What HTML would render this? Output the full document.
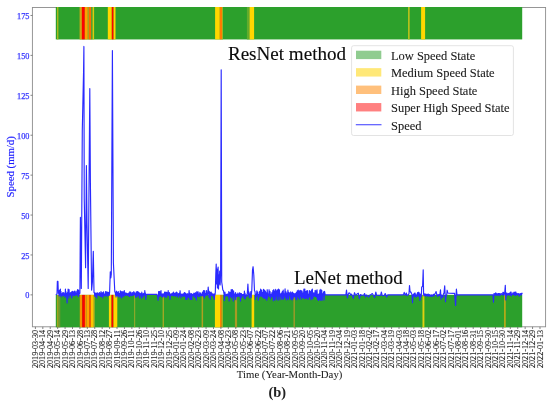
<!DOCTYPE html><html><head><meta charset="utf-8"><style>html,body{margin:0;padding:0;background:#fff;overflow:hidden}svg{display:block}text{font-family:"Liberation Serif","Times New Roman",serif}</style></head><body>
<svg width="550" height="403" viewBox="0 0 550 403">
<rect width="550" height="403" fill="#fff"/>
<rect x="32.4" y="7.5" width="513.2" height="319.3" fill="none" stroke="#8c8c8c" stroke-width="0.9"/>
<rect x="55.8" y="7" width="466.4" height="32.43" fill="#2ca02c"/>
<rect x="57" y="7" width="1.4" height="32.43" fill="#a8b81c"/>
<rect x="79.6" y="7" width="1.4" height="32.43" fill="#c8a818"/>
<rect x="81" y="7" width="0.9" height="32.43" fill="#e89a10"/>
<rect x="81.9" y="7" width="2.9" height="32.43" fill="#ff0000"/>
<rect x="84.8" y="7" width="3" height="32.43" fill="#ffa000"/>
<rect x="87.8" y="7" width="1.1" height="32.43" fill="#b0a820"/>
<rect x="88.9" y="7" width="2.2" height="32.43" fill="#ff6a00"/>
<rect x="91.1" y="7" width="1.5" height="32.43" fill="#5aa030"/>
<rect x="92.6" y="7" width="1.5" height="32.43" fill="#d8cc10"/>
<rect x="107.8" y="7" width="4" height="32.43" fill="#ffd700"/>
<rect x="111.8" y="7" width="1.8" height="32.43" fill="#ff0000"/>
<rect x="113.6" y="7" width="1.9" height="32.43" fill="#ffd700"/>
<rect x="215.1" y="7" width="4.7" height="32.43" fill="#ffd700"/>
<rect x="219.8" y="7" width="2.2" height="32.43" fill="#ff7a00"/>
<rect x="222" y="7" width="1" height="32.43" fill="#a0b020"/>
<rect x="246.9" y="7" width="2" height="32.43" fill="#64ac2e"/>
<rect x="248.9" y="7" width="0.9" height="32.43" fill="#98bc24"/>
<rect x="249.8" y="7" width="4.3" height="32.43" fill="#ffd700"/>
<rect x="408" y="7" width="1.7" height="32.43" fill="#b4c01c"/>
<rect x="421.1" y="7" width="4" height="32.43" fill="#ffd700"/>
<rect x="55.8" y="294.87" width="466.4" height="32.43" fill="#2ca02c"/>
<rect x="56.9" y="294.87" width="1.8" height="32.43" fill="#a0a41c"/>
<rect x="58.7" y="294.87" width="1.6" height="32.43" fill="#6a9a30"/>
<rect x="79.8" y="294.87" width="2.4" height="32.43" fill="#f29400"/>
<rect x="82.2" y="294.87" width="2.7" height="32.43" fill="#ff0000"/>
<rect x="84.9" y="294.87" width="1.7" height="32.43" fill="#ff8c00"/>
<rect x="86.6" y="294.87" width="2.5" height="32.43" fill="#ffa400"/>
<rect x="89.1" y="294.87" width="1.8" height="32.43" fill="#ff5000"/>
<rect x="90.9" y="294.87" width="2.9" height="32.43" fill="#ffc400"/>
<rect x="93.8" y="294.87" width="1.2" height="32.43" fill="#88a828"/>
<rect x="108.9" y="294.87" width="2.6" height="32.43" fill="#ffd700"/>
<rect x="111.5" y="294.87" width="2" height="32.43" fill="#ff0000"/>
<rect x="113.5" y="294.87" width="3.8" height="32.43" fill="#ffd700"/>
<rect x="134" y="294.87" width="1.2" height="32.43" fill="#8aa82a"/>
<rect x="162.6" y="294.87" width="1.4" height="32.43" fill="#a0a824"/>
<rect x="201.6" y="294.87" width="1.5" height="32.43" fill="#b0a020"/>
<rect x="214.9" y="294.87" width="5.1" height="32.43" fill="#ffd700"/>
<rect x="220" y="294.87" width="1.8" height="32.43" fill="#ff8200"/>
<rect x="221.8" y="294.87" width="1.2" height="32.43" fill="#a0b020"/>
<rect x="234.9" y="294.87" width="2.2" height="32.43" fill="#a89a24"/>
<rect x="251.6" y="294.87" width="2.6" height="32.43" fill="#ffd700"/>
<rect x="293.5" y="294.87" width="1.4" height="32.43" fill="#a09a28"/>
<rect x="422.5" y="294.87" width="1.9" height="32.43" fill="#e0d010"/>
<rect x="504" y="294.87" width="1.8" height="32.43" fill="#b0aa18"/>
<polyline fill="none" stroke="#2a2aff" stroke-width="1.15" stroke-linejoin="round" points="55.8,294.7 57,294 57.35,281.4 57.95,281.4 58.35,293.2 58.9,293.59 59.15,295.98 59.4,290.41 59.65,294.34 59.9,289.99 60.15,294.96 60.4,289 60.65,295.38 60.9,291.28 61.15,296.81 61.4,293.51 61.65,294.07 61.9,293.5 62.15,294.63 62.4,293.1 62.65,295.93 62.9,292.67 63.15,294.41 63.4,293.28 63.65,295.54 63.9,292.7 64.15,294.39 64.4,293.92 64.65,296.1 64.9,293.83 65.15,297.16 65.4,289 65.65,295.33 65.9,291.68 66.15,294.58 66.4,293.01 66.65,294.98 67.1,303 67.6,292.44 67.85,294.86 68.1,289 68.35,294.39 68.6,290.94 68.85,298 69.1,289.67 69.35,295.57 69.6,293.05 69.85,294.7 70.1,293.16 70.35,294.88 70.6,292.46 70.85,294.85 71.1,292.64 71.35,296.92 71.6,291.89 71.85,298 72.1,293.48 72.35,295.05 72.6,291.44 72.85,294.67 73.1,292.58 73.35,295.52 73.6,291.78 73.85,294.52 74.1,291.74 74.35,295.65 74.6,290.96 74.85,295.02 75.1,292.67 75.35,294.55 75.6,293.32 75.85,295.07 76.1,291.05 76.35,294.91 76.6,293.31 76.85,294.6 77.1,293.46 77.35,294.62 77.6,289.66 77.85,294.94 78.1,293.31 78.35,296.53 78.6,290.09 78.85,295.37 79.1,293.64 79.35,294.1 79.9,293.27 80.4,217.44 81.3,288.48 82.3,129.63 83.55,72.32 83.9,46.45 84.25,199.08 85.6,267.73 86.4,165.55 87,223.03 88.2,288.48 89.8,88.6 90.4,183.12 91.6,290.08 92.4,282.1 93.3,251.29 94,292.48 94.5,292.99 94.75,296.04 95,293.2 95.25,296.49 95.5,293.92 95.75,295.27 96,292.88 96.25,296.43 96.5,294.15 96.75,298 97,293.28 97.25,294.6 97.5,292.93 97.75,294.81 98,293.12 98.25,294.77 98.5,294.09 98.75,295.29 99,293.54 99.25,295.75 99.5,292.63 99.75,295.45 100,294.4 100.25,296 100.5,293.15 100.75,296.58 101,291.64 101.25,296.37 101.5,293.84 101.75,294.97 102,292.81 102.25,296.48 102.5,293.36 102.75,297.82 103,292.41 103.25,294.77 103.5,291.8 103.75,295.55 104,294.39 104.25,295.57 104.5,294.31 104.75,295.86 105,293.46 105.25,295.63 105.5,291.65 105.75,295.9 106,294.13 106.25,294.44 106.5,291.89 106.75,294.46 107,294.12 107.25,296.16 107.5,292.1 107.75,295.24 108,294.39 108.25,295.53 108.5,292.21 108.75,295.29 109,293.14 109.25,295.48 109.6,292.48 110.3,271.72 110.8,277.95 111.3,274.12 112.4,50.61 113.4,262.94 114.8,291.68 115.3,292.65 115.55,294.81 115.8,293.4 116.05,297.02 116.3,291.18 116.55,295.53 116.8,291.68 117.05,295.35 117.3,292.43 117.55,295.22 117.8,293.04 118.05,296.13 118.3,291.58 118.55,296.76 118.8,293 119.05,295.27 119.3,293.51 119.55,295.56 119.8,293.89 120.05,297.07 120.3,290.89 120.55,294.8 120.8,291.43 121.05,295.48 121.3,293.41 121.55,297.93 121.8,291.94 122.05,294.9 122.3,291.58 122.55,295.75 122.8,292.44 123.05,296.83 123.3,293.89 123.55,294.56 123.8,291.33 124.05,295.75 124.3,290.5 124.55,295.68 124.8,293.08 125.05,294.66 125.3,294.22 125.55,295.03 125.8,292.76 126.05,294.83 126.3,293.85 126.55,295.4 126.8,293.42 127.05,294.3 127.3,294.3 127.55,294.55 127.8,293.71 128.05,295.78 128.3,293.67 128.55,295.65 128.8,293 129.05,295.34 129.3,292.84 129.55,296.51 129.8,291.74 130.05,295.03 130.3,292.22 130.55,295.29 130.8,291.98 131.05,295.66 131.3,294.09 131.55,295.32 131.8,293.47 132.05,295.57 132.3,292.56 132.55,294.6 132.8,293.15 133.05,295.52 133.3,292.67 133.55,294.56 133.8,291.67 134.05,294.33 134.3,294.01 134.55,294.38 134.8,292.82 135.05,295.18 135.3,293.69 135.55,297.11 135.8,293.51 136.05,294.38 136.3,291.74 136.55,295.02 136.8,294.04 137.05,296.85 137.3,291.64 137.55,294.37 137.8,291.74 138.05,295.79 138.3,294.26 138.55,294.65 138.8,292.2 139.05,295.93 139.3,292.82 139.55,297.92 139.8,293.61 140.05,296.52 140.3,294.02 140.55,294.74 140.8,293.32 141.05,294.8 141.3,294.06 141.55,298.11 141.8,292.19 142.05,294.58 142.3,293.95 142.55,294.74 142.8,294.25 143.05,297.16 143.3,293.27 143.55,294.71 143.8,293.78 144.05,295.34 144.3,293.61 144.55,294.45 144.8,290.5 145.05,294.75 145.3,292.74 145.8,299.4 146.3,294.4 156.7,294.4 157.6,296 158.1,300.3 158.6,291.47 158.9,296.82 159.2,291.53 159.5,295.87 159.8,291.62 160.1,295.51 160.4,293.29 160.7,295.15 161,290.5 161.3,296.43 161.6,294.76 161.9,295.61 162.2,293.81 162.5,297.13 162.8,294.74 163.1,296.78 163.4,293.81 163.7,295.77 164,293.79 164.3,295.75 164.6,292.07 164.9,296.93 165.2,293.22 165.5,294.8 165.8,292.16 166.1,297.25 166.4,292.3 166.7,296.91 167,292.53 167.3,294.88 167.6,294.36 167.9,294.83 168.2,290.5 168.5,295.45 168.8,294.48 169.1,295.48 169.4,292.61 170,299.4 170.5,294.14 170.8,295.78 171.1,293.81 171.4,295.52 171.7,293.81 172,294.82 172.3,293.05 172.6,295.37 172.9,294.47 173.2,295.31 173.5,292.15 173.8,296.04 174.1,293.34 174.4,295.68 174.7,293.76 175,295.83 175.3,292.83 175.6,294.9 175.9,294.66 176.2,295.85 176.5,292.19 176.8,296.66 177.1,292.64 177.4,295.24 177.7,294.78 178,294.81 178.3,293.54 178.6,297.25 178.9,294.17 179.2,295.31 179.5,292.71 179.8,295.6 180.1,290.7 180.4,295.27 180.7,294.46 181,297.93 181.3,294.06 181.6,295.57 181.9,294.39 182.2,295.15 182.5,294.04 182.8,296.35 183.1,294.31 183.4,296.27 183.7,293.62 184,295.86 184.3,292.68 184.6,296.09 184.9,292.7 185.2,294.82 185.5,293.22 185.8,299.5 186.1,294.03 186.4,297.79 186.7,294.13 187,299.5 187.3,293.61 187.6,295.03 187.9,294.38 188.2,297.13 188.5,293.9 188.8,294.82 189.1,290.64 189.4,297.74 189.7,292.7 190,299.5 190.3,293.5 190.6,295.32 190.9,294.27 191.2,299.5 191.5,293.51 191.8,299.5 192.1,294.1 192.4,295.97 192.7,294.75 193,294.89 193.3,294.11 193.6,295.28 193.9,293.19 194.2,296.84 194.5,293.29 194.8,295.28 195.1,294.33 195.4,297.8 195.7,292.63 196.4,300 196.9,291.54 197.2,295.29 197.5,294.69 197.8,294.85 198.1,291.81 198.4,296.67 198.7,294.29 199,295.89 199.3,293.77 199.6,296.52 199.9,292.41 200.2,294.96 200.5,293.22 200.8,295.61 201.1,294.1 201.4,295.6 201.7,294.41 202,295.86 202.3,292.64 202.6,295.36 202.9,291.91 203.2,295.56 203.5,290.5 203.8,296.54 204.1,294.43 204.4,297.89 204.7,290.5 205,296.15 205.3,293.86 205.6,294.94 205.9,293.35 206.2,294.83 206.5,290.5 206.8,295.43 207.1,293.82 207.4,294.87 207.7,293.87 208.2,287.1 208.7,293.14 209,297.19 209.3,291.32 209.6,297.46 209.9,294.07 210.2,299.36 210.5,292.24 210.8,295.21 211.1,292.09 211.4,295.5 211.7,292.97 212,295.11 212.3,293.78 212.6,295.94 212.9,294.18 213.2,295.02 213.5,294.15 213.8,297.96 214.1,294.74 214.4,299.34 214.7,293.56 215,295.01 215.3,292.5 215.8,274 216.2,264 216.6,284 217,269 217.4,288 217.8,271 218.1,267 218.5,289 218.9,275 219.3,284 219.7,271 220.1,285 220.6,274 221.2,69.76 221.7,282 222.3,286 222.8,290 223.5,290.6 224,294 224.4,300.5 224.9,292 225.4,296 225.8,294.77 226.1,296.25 226.4,294.48 226.7,295.5 227,294.07 227.3,295.76 227.6,294.04 227.9,295.94 228.2,294.37 228.5,297.21 228.8,291.47 229.1,301 229.4,294.83 229.7,296.32 230,292.44 230.3,296.63 230.6,292.87 230.9,295.44 231.2,289.59 231.5,298.05 231.8,291.91 232.1,296.64 232.4,289.5 232.7,295.71 233,291.65 233.3,301 233.6,290.91 233.9,299.05 234.2,293.71 234.5,295.94 234.8,294.75 235.1,296.09 235.4,292.52 235.7,299.61 236,294.86 236.3,296.86 236.6,294.29 236.9,296.08 237.2,293.11 237.5,296.52 237.8,294.76 238.1,295.92 238.4,294.2 238.7,296.23 239,293 239.3,296.31 239.6,292.89 239.9,295.54 240.2,294.95 240.5,301 240.8,293.31 241.1,295.33 241.4,293.68 241.7,297.57 242,294.74 242.3,295.73 242.6,294.64 242.9,295.24 243.2,294.33 243.5,295.48 243.8,294.37 244.1,298.27 244.4,291 244.7,295.72 245,292.98 245.3,298.97 245.6,295.16 245.9,296.19 246.2,294.83 246.5,296.06 246.8,294.86 247.1,296.47 247.9,284 248.4,292.93 248.7,295.2 249,291.95 249.3,297.69 249.6,293.71 249.9,296.14 250.2,293.76 250.5,296.28 250.8,291.51 251.1,297.69 251.8,290 252.5,270 253.1,266.7 253.8,275 254.5,291 255,291.25 255.47,299.43 255.94,294.32 256.41,296.47 256.88,290.75 257.35,295.01 257.82,292.09 258.29,300.19 258.76,294.47 259.23,297.06 259.7,291.22 260.17,296.18 260.64,289.17 261.11,295.87 261.58,290.06 262.05,296.53 262.52,292.57 262.99,297.57 263.46,289.36 263.93,298.08 264.4,290.08 264.87,298.2 265.34,291.07 265.81,298.72 266.28,292.86 266.75,300.16 267.22,289.7 267.69,297.7 268.16,293.99 268.63,295.23 269.1,289.7 269.57,296.54 270.04,291.57 270.51,298.72 270.98,294.51 271.45,296.37 271.92,292.7 272.39,296.91 272.86,290.58 273.33,300.68 273.8,289.63 274.27,299.2 274.74,290.99 275.21,300.28 275.68,289.21 276.15,295.82 276.62,290.92 277.09,299.27 277.56,289.86 278.03,300.17 278.5,289.12 278.97,296.19 279.44,289.89 279.91,299.79 280.38,294.03 280.85,296.19 281.32,293.11 281.79,299.15 282.26,291.68 282.73,298.59 283.2,290.12 283.67,299.09 284.14,294.07 284.61,295.99 285.08,288.93 285.55,297.85 286.02,291.73 286.49,299.82 286.96,293.35 287.43,297.89 287.9,290.03 288.37,299.56 288.84,292.31 289.31,295.5 289.78,293.07 290.25,297.91 290.72,291.93 291.19,299.38 291.66,292.71 292.13,299.89 292.6,292.05 293.07,298.36 293.54,293.22 294.01,296.75 294.48,293.7 294.95,296.89 295.42,293.5 295.89,299.23 296.36,292.37 296.83,299.61 297.3,290.9 297.77,296.2 298.24,290.01 298.71,297.9 299.18,291.1 299.65,299.3 300.12,290.26 300.59,296.33 301.06,290.54 301.53,298.94 302,290.96 302.47,297.43 302.94,293.15 303.41,297.64 303.88,289.2 304.35,298.8 304.82,288.95 305.29,298.15 305.76,291.59 306.23,298.33 306.7,290.89 307.17,298.03 307.64,290.63 308.11,299.42 308.58,294.27 309.05,297.32 309.52,290.55 309.99,296.54 310.46,291.54 310.93,299.65 311.4,290.1 311.87,298.68 312.34,289.01 312.81,298.71 313.28,292.89 313.75,295.73 314.22,293.05 314.69,296.47 315.16,290.41 315.63,296.42 316.1,290.9 316.57,297.1 317.04,289.8 317.51,299.55 317.98,294.51 318.45,300.52 318.92,293.77 319.39,299.5 319.86,290.01 320.33,300.17 320.8,289.42 321.27,299.87 321.74,290.3 322.21,300.12 322.68,293.79 323.15,295.34 323.62,291.71 324.09,300 324.56,291.34 325.2,294.9 345.9,294.9 346.5,290 347.4,297.9 348.2,294.5 348.9,292.9 349.9,293.3 350.7,295.2 351.5,294.2 352.3,295.6 353.4,298.3 354.5,292.7 355.2,294.3 356.1,295.4 357,294 358.3,293.2 359.4,298.7 360.5,294.5 361.5,295.3 363.8,295.1 364.6,293.5 365.5,297 366.3,295 367.5,295.8 368.7,297 369.6,295.2 371,294.6 372.3,293.5 373.2,295 374.7,297.5 375.8,292 376.6,295.3 380.6,295.4 381.4,292 382.2,295.6 384.4,295.3 385.2,293.5 386.6,297 387.5,295 388.2,294.9 402.5,294.9 403.1,295 403.7,294.2 404.2,292.4 404.8,294.6 405.3,295.2 405.8,294 406.3,293 406.8,295.2 407.3,295.6 407.8,295 408.5,294.6 409,293.5 409.5,285.6 410,291 410.5,292.2 410.9,292 411.5,293.5 412,294.5 412.5,302.8 413,296 413.5,294 414,296.5 414.5,293.3 415.1,293 415.6,297.2 416.1,295 416.6,296.5 417.2,293.8 417.7,292.5 418.2,296.5 418.8,292.2 419.3,293.5 420,300.5 420.6,294 421.3,296.5 421.7,287 422.6,286.5 423.2,269.8 423.6,294 424,296 424.6,293.8 425.2,295.5 425.8,294 426.4,296.2 427,294.3 427.6,295.8 428.2,294 428.8,296.4 429.4,294.5 430,296 430.6,295 431.2,296.5 431.8,294.8 432.4,296.2 433,295 433.6,294.3 434.2,296 434.8,294 435.4,293 436.1,291.6 436.8,294.5 437.4,296.3 438,294.6 438.6,296 439.2,294.5 439.8,295.5 440.5,289.8 441,299.2 441.6,295 442.2,296 442.8,297.5 443.4,294 444,293 444.7,285.9 445.5,301.8 446.2,295.5 446.7,295 447.1,290.2 447.8,293 449,293.2 454.6,293.4 455.6,305.4 456.4,289 457,294.9 493,294.9 493.5,302.2 494,293.5 494.5,294.13 494.8,294.64 495.1,293.51 495.4,295.26 495.7,292.89 496,295.18 496.3,293.39 496.6,295.2 496.9,294.08 497.2,295.51 497.5,293.92 497.8,294.72 498.1,293.59 498.4,294.27 498.7,293.63 499,295.68 499.3,293.68 499.6,295.02 499.9,293.63 500.2,295.41 500.5,294.01 500.8,294.49 501.1,293.55 501.4,294.25 501.7,293.97 502,294.46 502.3,294.02 502.6,294.9 502.9,292.44 503.2,294.65 503.5,292.41 503.8,295.11 504.1,293.27 504.4,294.49 504.7,292.99 505.3,285.3 505.8,300 506.3,293.17 506.6,294.52 506.9,293.15 507.2,294.83 507.5,293.95 507.8,295.25 508.1,293.55 508.4,294.55 508.7,293.94 509,294.47 509.3,293.08 509.6,295.24 509.9,294.07 510.2,294.25 510.5,292.02 510.8,295.1 511.1,292 511.4,295.93 511.7,294.12 512,294.22 512.3,293.85 512.6,294.38 512.9,292.87 513.2,294.35 513.5,294.1 513.8,294.45 514.1,292.19 514.4,295.27 514.7,293.96 515,295.1 515.3,292 515.6,294.91 515.9,292.03 516.2,295.46 516.5,294.13 516.8,294.7 517.1,293.45 517.4,294.49 517.7,293.99 518,294.62 518.3,293.47 518.6,295.14 518.9,293.74 519.2,296.17 519.5,294.12 519.8,294.49 520.1,293.85 520.4,294.87 520.7,293.64 521,295.19 521.3,293.58 521.6,294.73 521.9,292.99 522.2,294"/>
<line x1="30.5" y1="294.87" x2="32.4" y2="294.87" stroke="#666" stroke-width="0.8"/>
<text x="29.5" y="298.47" font-size="8.3" fill="#3636ff" stroke="#3636ff" stroke-width="0.25" text-anchor="end">0</text>
<line x1="30.5" y1="254.96" x2="32.4" y2="254.96" stroke="#666" stroke-width="0.8"/>
<text x="29.5" y="258.56" font-size="8.3" fill="#3636ff" stroke="#3636ff" stroke-width="0.25" text-anchor="end">25</text>
<line x1="30.5" y1="215.05" x2="32.4" y2="215.05" stroke="#666" stroke-width="0.8"/>
<text x="29.5" y="218.65" font-size="8.3" fill="#3636ff" stroke="#3636ff" stroke-width="0.25" text-anchor="end">50</text>
<line x1="30.5" y1="175.13" x2="32.4" y2="175.13" stroke="#666" stroke-width="0.8"/>
<text x="29.5" y="178.73" font-size="8.3" fill="#3636ff" stroke="#3636ff" stroke-width="0.25" text-anchor="end">75</text>
<line x1="30.5" y1="135.22" x2="32.4" y2="135.22" stroke="#666" stroke-width="0.8"/>
<text x="29.5" y="138.82" font-size="8.3" fill="#3636ff" stroke="#3636ff" stroke-width="0.25" text-anchor="end">100</text>
<line x1="30.5" y1="95.31" x2="32.4" y2="95.31" stroke="#666" stroke-width="0.8"/>
<text x="29.5" y="98.91" font-size="8.3" fill="#3636ff" stroke="#3636ff" stroke-width="0.25" text-anchor="end">125</text>
<line x1="30.5" y1="55.39" x2="32.4" y2="55.39" stroke="#666" stroke-width="0.8"/>
<text x="29.5" y="58.99" font-size="8.3" fill="#3636ff" stroke="#3636ff" stroke-width="0.25" text-anchor="end">150</text>
<line x1="30.5" y1="15.48" x2="32.4" y2="15.48" stroke="#666" stroke-width="0.8"/>
<text x="29.5" y="19.08" font-size="8.3" fill="#3636ff" stroke="#3636ff" stroke-width="0.25" text-anchor="end">175</text>
<line x1="35.4" y1="326.8" x2="35.4" y2="329" stroke="#666" stroke-width="0.8"/>
<text transform="translate(38 329.9) rotate(-90)" font-size="8.2" fill="#1a1a1a" stroke="#1a1a1a" stroke-width="0.12" text-anchor="end">2019-03-30</text>
<line x1="42.82" y1="326.8" x2="42.82" y2="329" stroke="#666" stroke-width="0.8"/>
<text transform="translate(45.42 329.9) rotate(-90)" font-size="8.2" fill="#1a1a1a" stroke="#1a1a1a" stroke-width="0.12" text-anchor="end">2019-04-14</text>
<line x1="50.24" y1="326.8" x2="50.24" y2="329" stroke="#666" stroke-width="0.8"/>
<text transform="translate(52.84 329.9) rotate(-90)" font-size="8.2" fill="#1a1a1a" stroke="#1a1a1a" stroke-width="0.12" text-anchor="end">2019-04-29</text>
<line x1="57.66" y1="326.8" x2="57.66" y2="329" stroke="#666" stroke-width="0.8"/>
<text transform="translate(60.26 329.9) rotate(-90)" font-size="8.2" fill="#1a1a1a" stroke="#1a1a1a" stroke-width="0.12" text-anchor="end">2019-05-14</text>
<line x1="65.08" y1="326.8" x2="65.08" y2="329" stroke="#666" stroke-width="0.8"/>
<text transform="translate(67.68 329.9) rotate(-90)" font-size="8.2" fill="#1a1a1a" stroke="#1a1a1a" stroke-width="0.12" text-anchor="end">2019-05-29</text>
<line x1="72.5" y1="326.8" x2="72.5" y2="329" stroke="#666" stroke-width="0.8"/>
<text transform="translate(75.1 329.9) rotate(-90)" font-size="8.2" fill="#1a1a1a" stroke="#1a1a1a" stroke-width="0.12" text-anchor="end">2019-06-13</text>
<line x1="79.92" y1="326.8" x2="79.92" y2="329" stroke="#666" stroke-width="0.8"/>
<text transform="translate(82.52 329.9) rotate(-90)" font-size="8.2" fill="#1a1a1a" stroke="#1a1a1a" stroke-width="0.12" text-anchor="end">2019-06-28</text>
<line x1="87.34" y1="326.8" x2="87.34" y2="329" stroke="#666" stroke-width="0.8"/>
<text transform="translate(89.94 329.9) rotate(-90)" font-size="8.2" fill="#1a1a1a" stroke="#1a1a1a" stroke-width="0.12" text-anchor="end">2019-07-13</text>
<line x1="94.76" y1="326.8" x2="94.76" y2="329" stroke="#666" stroke-width="0.8"/>
<text transform="translate(97.36 329.9) rotate(-90)" font-size="8.2" fill="#1a1a1a" stroke="#1a1a1a" stroke-width="0.12" text-anchor="end">2019-07-28</text>
<line x1="102.18" y1="326.8" x2="102.18" y2="329" stroke="#666" stroke-width="0.8"/>
<text transform="translate(104.78 329.9) rotate(-90)" font-size="8.2" fill="#1a1a1a" stroke="#1a1a1a" stroke-width="0.12" text-anchor="end">2019-08-12</text>
<line x1="109.6" y1="326.8" x2="109.6" y2="329" stroke="#666" stroke-width="0.8"/>
<text transform="translate(112.2 329.9) rotate(-90)" font-size="8.2" fill="#1a1a1a" stroke="#1a1a1a" stroke-width="0.12" text-anchor="end">2019-08-27</text>
<line x1="117.03" y1="326.8" x2="117.03" y2="329" stroke="#666" stroke-width="0.8"/>
<text transform="translate(119.63 329.9) rotate(-90)" font-size="8.2" fill="#1a1a1a" stroke="#1a1a1a" stroke-width="0.12" text-anchor="end">2019-09-11</text>
<line x1="124.45" y1="326.8" x2="124.45" y2="329" stroke="#666" stroke-width="0.8"/>
<text transform="translate(127.05 329.9) rotate(-90)" font-size="8.2" fill="#1a1a1a" stroke="#1a1a1a" stroke-width="0.12" text-anchor="end">2019-09-26</text>
<line x1="131.87" y1="326.8" x2="131.87" y2="329" stroke="#666" stroke-width="0.8"/>
<text transform="translate(134.47 329.9) rotate(-90)" font-size="8.2" fill="#1a1a1a" stroke="#1a1a1a" stroke-width="0.12" text-anchor="end">2019-10-11</text>
<line x1="139.29" y1="326.8" x2="139.29" y2="329" stroke="#666" stroke-width="0.8"/>
<text transform="translate(141.89 329.9) rotate(-90)" font-size="8.2" fill="#1a1a1a" stroke="#1a1a1a" stroke-width="0.12" text-anchor="end">2019-10-26</text>
<line x1="146.71" y1="326.8" x2="146.71" y2="329" stroke="#666" stroke-width="0.8"/>
<text transform="translate(149.31 329.9) rotate(-90)" font-size="8.2" fill="#1a1a1a" stroke="#1a1a1a" stroke-width="0.12" text-anchor="end">2019-11-10</text>
<line x1="154.13" y1="326.8" x2="154.13" y2="329" stroke="#666" stroke-width="0.8"/>
<text transform="translate(156.73 329.9) rotate(-90)" font-size="8.2" fill="#1a1a1a" stroke="#1a1a1a" stroke-width="0.12" text-anchor="end">2019-11-25</text>
<line x1="161.55" y1="326.8" x2="161.55" y2="329" stroke="#666" stroke-width="0.8"/>
<text transform="translate(164.15 329.9) rotate(-90)" font-size="8.2" fill="#1a1a1a" stroke="#1a1a1a" stroke-width="0.12" text-anchor="end">2019-12-10</text>
<line x1="168.97" y1="326.8" x2="168.97" y2="329" stroke="#666" stroke-width="0.8"/>
<text transform="translate(171.57 329.9) rotate(-90)" font-size="8.2" fill="#1a1a1a" stroke="#1a1a1a" stroke-width="0.12" text-anchor="end">2019-12-25</text>
<line x1="176.39" y1="326.8" x2="176.39" y2="329" stroke="#666" stroke-width="0.8"/>
<text transform="translate(178.99 329.9) rotate(-90)" font-size="8.2" fill="#1a1a1a" stroke="#1a1a1a" stroke-width="0.12" text-anchor="end">2020-01-09</text>
<line x1="183.81" y1="326.8" x2="183.81" y2="329" stroke="#666" stroke-width="0.8"/>
<text transform="translate(186.41 329.9) rotate(-90)" font-size="8.2" fill="#1a1a1a" stroke="#1a1a1a" stroke-width="0.12" text-anchor="end">2020-01-24</text>
<line x1="191.23" y1="326.8" x2="191.23" y2="329" stroke="#666" stroke-width="0.8"/>
<text transform="translate(193.83 329.9) rotate(-90)" font-size="8.2" fill="#1a1a1a" stroke="#1a1a1a" stroke-width="0.12" text-anchor="end">2020-02-08</text>
<line x1="198.65" y1="326.8" x2="198.65" y2="329" stroke="#666" stroke-width="0.8"/>
<text transform="translate(201.25 329.9) rotate(-90)" font-size="8.2" fill="#1a1a1a" stroke="#1a1a1a" stroke-width="0.12" text-anchor="end">2020-02-23</text>
<line x1="206.07" y1="326.8" x2="206.07" y2="329" stroke="#666" stroke-width="0.8"/>
<text transform="translate(208.67 329.9) rotate(-90)" font-size="8.2" fill="#1a1a1a" stroke="#1a1a1a" stroke-width="0.12" text-anchor="end">2020-03-09</text>
<line x1="213.49" y1="326.8" x2="213.49" y2="329" stroke="#666" stroke-width="0.8"/>
<text transform="translate(216.09 329.9) rotate(-90)" font-size="8.2" fill="#1a1a1a" stroke="#1a1a1a" stroke-width="0.12" text-anchor="end">2020-03-24</text>
<line x1="220.91" y1="326.8" x2="220.91" y2="329" stroke="#666" stroke-width="0.8"/>
<text transform="translate(223.51 329.9) rotate(-90)" font-size="8.2" fill="#1a1a1a" stroke="#1a1a1a" stroke-width="0.12" text-anchor="end">2020-04-08</text>
<line x1="228.33" y1="326.8" x2="228.33" y2="329" stroke="#666" stroke-width="0.8"/>
<text transform="translate(230.93 329.9) rotate(-90)" font-size="8.2" fill="#1a1a1a" stroke="#1a1a1a" stroke-width="0.12" text-anchor="end">2020-04-23</text>
<line x1="235.75" y1="326.8" x2="235.75" y2="329" stroke="#666" stroke-width="0.8"/>
<text transform="translate(238.35 329.9) rotate(-90)" font-size="8.2" fill="#1a1a1a" stroke="#1a1a1a" stroke-width="0.12" text-anchor="end">2020-05-08</text>
<line x1="243.17" y1="326.8" x2="243.17" y2="329" stroke="#666" stroke-width="0.8"/>
<text transform="translate(245.77 329.9) rotate(-90)" font-size="8.2" fill="#1a1a1a" stroke="#1a1a1a" stroke-width="0.12" text-anchor="end">2020-05-23</text>
<line x1="250.59" y1="326.8" x2="250.59" y2="329" stroke="#666" stroke-width="0.8"/>
<text transform="translate(253.19 329.9) rotate(-90)" font-size="8.2" fill="#1a1a1a" stroke="#1a1a1a" stroke-width="0.12" text-anchor="end">2020-06-07</text>
<line x1="258.01" y1="326.8" x2="258.01" y2="329" stroke="#666" stroke-width="0.8"/>
<text transform="translate(260.62 329.9) rotate(-90)" font-size="8.2" fill="#1a1a1a" stroke="#1a1a1a" stroke-width="0.12" text-anchor="end">2020-06-22</text>
<line x1="265.44" y1="326.8" x2="265.44" y2="329" stroke="#666" stroke-width="0.8"/>
<text transform="translate(268.04 329.9) rotate(-90)" font-size="8.2" fill="#1a1a1a" stroke="#1a1a1a" stroke-width="0.12" text-anchor="end">2020-07-07</text>
<line x1="272.86" y1="326.8" x2="272.86" y2="329" stroke="#666" stroke-width="0.8"/>
<text transform="translate(275.46 329.9) rotate(-90)" font-size="8.2" fill="#1a1a1a" stroke="#1a1a1a" stroke-width="0.12" text-anchor="end">2020-07-22</text>
<line x1="280.28" y1="326.8" x2="280.28" y2="329" stroke="#666" stroke-width="0.8"/>
<text transform="translate(282.88 329.9) rotate(-90)" font-size="8.2" fill="#1a1a1a" stroke="#1a1a1a" stroke-width="0.12" text-anchor="end">2020-08-06</text>
<line x1="287.7" y1="326.8" x2="287.7" y2="329" stroke="#666" stroke-width="0.8"/>
<text transform="translate(290.3 329.9) rotate(-90)" font-size="8.2" fill="#1a1a1a" stroke="#1a1a1a" stroke-width="0.12" text-anchor="end">2020-08-21</text>
<line x1="295.12" y1="326.8" x2="295.12" y2="329" stroke="#666" stroke-width="0.8"/>
<text transform="translate(297.72 329.9) rotate(-90)" font-size="8.2" fill="#1a1a1a" stroke="#1a1a1a" stroke-width="0.12" text-anchor="end">2020-09-05</text>
<line x1="302.54" y1="326.8" x2="302.54" y2="329" stroke="#666" stroke-width="0.8"/>
<text transform="translate(305.14 329.9) rotate(-90)" font-size="8.2" fill="#1a1a1a" stroke="#1a1a1a" stroke-width="0.12" text-anchor="end">2020-09-20</text>
<line x1="309.96" y1="326.8" x2="309.96" y2="329" stroke="#666" stroke-width="0.8"/>
<text transform="translate(312.56 329.9) rotate(-90)" font-size="8.2" fill="#1a1a1a" stroke="#1a1a1a" stroke-width="0.12" text-anchor="end">2020-10-05</text>
<line x1="317.38" y1="326.8" x2="317.38" y2="329" stroke="#666" stroke-width="0.8"/>
<text transform="translate(319.98 329.9) rotate(-90)" font-size="8.2" fill="#1a1a1a" stroke="#1a1a1a" stroke-width="0.12" text-anchor="end">2020-10-20</text>
<line x1="324.8" y1="326.8" x2="324.8" y2="329" stroke="#666" stroke-width="0.8"/>
<text transform="translate(327.4 329.9) rotate(-90)" font-size="8.2" fill="#1a1a1a" stroke="#1a1a1a" stroke-width="0.12" text-anchor="end">2020-11-04</text>
<line x1="332.22" y1="326.8" x2="332.22" y2="329" stroke="#666" stroke-width="0.8"/>
<text transform="translate(334.82 329.9) rotate(-90)" font-size="8.2" fill="#1a1a1a" stroke="#1a1a1a" stroke-width="0.12" text-anchor="end">2020-11-19</text>
<line x1="339.64" y1="326.8" x2="339.64" y2="329" stroke="#666" stroke-width="0.8"/>
<text transform="translate(342.24 329.9) rotate(-90)" font-size="8.2" fill="#1a1a1a" stroke="#1a1a1a" stroke-width="0.12" text-anchor="end">2020-12-04</text>
<line x1="347.06" y1="326.8" x2="347.06" y2="329" stroke="#666" stroke-width="0.8"/>
<text transform="translate(349.66 329.9) rotate(-90)" font-size="8.2" fill="#1a1a1a" stroke="#1a1a1a" stroke-width="0.12" text-anchor="end">2020-12-19</text>
<line x1="354.48" y1="326.8" x2="354.48" y2="329" stroke="#666" stroke-width="0.8"/>
<text transform="translate(357.08 329.9) rotate(-90)" font-size="8.2" fill="#1a1a1a" stroke="#1a1a1a" stroke-width="0.12" text-anchor="end">2021-01-03</text>
<line x1="361.9" y1="326.8" x2="361.9" y2="329" stroke="#666" stroke-width="0.8"/>
<text transform="translate(364.5 329.9) rotate(-90)" font-size="8.2" fill="#1a1a1a" stroke="#1a1a1a" stroke-width="0.12" text-anchor="end">2021-01-18</text>
<line x1="369.32" y1="326.8" x2="369.32" y2="329" stroke="#666" stroke-width="0.8"/>
<text transform="translate(371.92 329.9) rotate(-90)" font-size="8.2" fill="#1a1a1a" stroke="#1a1a1a" stroke-width="0.12" text-anchor="end">2021-02-02</text>
<line x1="376.74" y1="326.8" x2="376.74" y2="329" stroke="#666" stroke-width="0.8"/>
<text transform="translate(379.34 329.9) rotate(-90)" font-size="8.2" fill="#1a1a1a" stroke="#1a1a1a" stroke-width="0.12" text-anchor="end">2021-02-17</text>
<line x1="384.16" y1="326.8" x2="384.16" y2="329" stroke="#666" stroke-width="0.8"/>
<text transform="translate(386.76 329.9) rotate(-90)" font-size="8.2" fill="#1a1a1a" stroke="#1a1a1a" stroke-width="0.12" text-anchor="end">2021-03-04</text>
<line x1="391.58" y1="326.8" x2="391.58" y2="329" stroke="#666" stroke-width="0.8"/>
<text transform="translate(394.18 329.9) rotate(-90)" font-size="8.2" fill="#1a1a1a" stroke="#1a1a1a" stroke-width="0.12" text-anchor="end">2021-03-19</text>
<line x1="399" y1="326.8" x2="399" y2="329" stroke="#666" stroke-width="0.8"/>
<text transform="translate(401.6 329.9) rotate(-90)" font-size="8.2" fill="#1a1a1a" stroke="#1a1a1a" stroke-width="0.12" text-anchor="end">2021-04-03</text>
<line x1="406.42" y1="326.8" x2="406.42" y2="329" stroke="#666" stroke-width="0.8"/>
<text transform="translate(409.02 329.9) rotate(-90)" font-size="8.2" fill="#1a1a1a" stroke="#1a1a1a" stroke-width="0.12" text-anchor="end">2021-04-18</text>
<line x1="413.85" y1="326.8" x2="413.85" y2="329" stroke="#666" stroke-width="0.8"/>
<text transform="translate(416.45 329.9) rotate(-90)" font-size="8.2" fill="#1a1a1a" stroke="#1a1a1a" stroke-width="0.12" text-anchor="end">2021-05-03</text>
<line x1="421.27" y1="326.8" x2="421.27" y2="329" stroke="#666" stroke-width="0.8"/>
<text transform="translate(423.87 329.9) rotate(-90)" font-size="8.2" fill="#1a1a1a" stroke="#1a1a1a" stroke-width="0.12" text-anchor="end">2021-05-18</text>
<line x1="428.69" y1="326.8" x2="428.69" y2="329" stroke="#666" stroke-width="0.8"/>
<text transform="translate(431.29 329.9) rotate(-90)" font-size="8.2" fill="#1a1a1a" stroke="#1a1a1a" stroke-width="0.12" text-anchor="end">2021-06-02</text>
<line x1="436.11" y1="326.8" x2="436.11" y2="329" stroke="#666" stroke-width="0.8"/>
<text transform="translate(438.71 329.9) rotate(-90)" font-size="8.2" fill="#1a1a1a" stroke="#1a1a1a" stroke-width="0.12" text-anchor="end">2021-06-17</text>
<line x1="443.53" y1="326.8" x2="443.53" y2="329" stroke="#666" stroke-width="0.8"/>
<text transform="translate(446.13 329.9) rotate(-90)" font-size="8.2" fill="#1a1a1a" stroke="#1a1a1a" stroke-width="0.12" text-anchor="end">2021-07-02</text>
<line x1="450.95" y1="326.8" x2="450.95" y2="329" stroke="#666" stroke-width="0.8"/>
<text transform="translate(453.55 329.9) rotate(-90)" font-size="8.2" fill="#1a1a1a" stroke="#1a1a1a" stroke-width="0.12" text-anchor="end">2021-07-17</text>
<line x1="458.37" y1="326.8" x2="458.37" y2="329" stroke="#666" stroke-width="0.8"/>
<text transform="translate(460.97 329.9) rotate(-90)" font-size="8.2" fill="#1a1a1a" stroke="#1a1a1a" stroke-width="0.12" text-anchor="end">2021-08-01</text>
<line x1="465.79" y1="326.8" x2="465.79" y2="329" stroke="#666" stroke-width="0.8"/>
<text transform="translate(468.39 329.9) rotate(-90)" font-size="8.2" fill="#1a1a1a" stroke="#1a1a1a" stroke-width="0.12" text-anchor="end">2021-08-16</text>
<line x1="473.21" y1="326.8" x2="473.21" y2="329" stroke="#666" stroke-width="0.8"/>
<text transform="translate(475.81 329.9) rotate(-90)" font-size="8.2" fill="#1a1a1a" stroke="#1a1a1a" stroke-width="0.12" text-anchor="end">2021-08-31</text>
<line x1="480.63" y1="326.8" x2="480.63" y2="329" stroke="#666" stroke-width="0.8"/>
<text transform="translate(483.23 329.9) rotate(-90)" font-size="8.2" fill="#1a1a1a" stroke="#1a1a1a" stroke-width="0.12" text-anchor="end">2021-09-15</text>
<line x1="488.05" y1="326.8" x2="488.05" y2="329" stroke="#666" stroke-width="0.8"/>
<text transform="translate(490.65 329.9) rotate(-90)" font-size="8.2" fill="#1a1a1a" stroke="#1a1a1a" stroke-width="0.12" text-anchor="end">2021-09-30</text>
<line x1="495.47" y1="326.8" x2="495.47" y2="329" stroke="#666" stroke-width="0.8"/>
<text transform="translate(498.07 329.9) rotate(-90)" font-size="8.2" fill="#1a1a1a" stroke="#1a1a1a" stroke-width="0.12" text-anchor="end">2021-10-15</text>
<line x1="502.89" y1="326.8" x2="502.89" y2="329" stroke="#666" stroke-width="0.8"/>
<text transform="translate(505.49 329.9) rotate(-90)" font-size="8.2" fill="#1a1a1a" stroke="#1a1a1a" stroke-width="0.12" text-anchor="end">2021-10-30</text>
<line x1="510.31" y1="326.8" x2="510.31" y2="329" stroke="#666" stroke-width="0.8"/>
<text transform="translate(512.91 329.9) rotate(-90)" font-size="8.2" fill="#1a1a1a" stroke="#1a1a1a" stroke-width="0.12" text-anchor="end">2021-11-14</text>
<line x1="517.73" y1="326.8" x2="517.73" y2="329" stroke="#666" stroke-width="0.8"/>
<text transform="translate(520.33 329.9) rotate(-90)" font-size="8.2" fill="#1a1a1a" stroke="#1a1a1a" stroke-width="0.12" text-anchor="end">2021-11-29</text>
<line x1="525.15" y1="326.8" x2="525.15" y2="329" stroke="#666" stroke-width="0.8"/>
<text transform="translate(527.75 329.9) rotate(-90)" font-size="8.2" fill="#1a1a1a" stroke="#1a1a1a" stroke-width="0.12" text-anchor="end">2021-12-14</text>
<line x1="532.57" y1="326.8" x2="532.57" y2="329" stroke="#666" stroke-width="0.8"/>
<text transform="translate(535.17 329.9) rotate(-90)" font-size="8.2" fill="#1a1a1a" stroke="#1a1a1a" stroke-width="0.12" text-anchor="end">2021-12-29</text>
<line x1="539.99" y1="326.8" x2="539.99" y2="329" stroke="#666" stroke-width="0.8"/>
<text transform="translate(542.59 329.9) rotate(-90)" font-size="8.2" fill="#1a1a1a" stroke="#1a1a1a" stroke-width="0.12" text-anchor="end">2022-01-13</text>
<text transform="translate(14.1 166.8) rotate(-90)" font-size="10.75" fill="#2020ff" stroke="#2020ff" stroke-width="0.15" text-anchor="middle">Speed (mm/d)</text>
<text x="289.6" y="377.8" font-size="10.75" fill="#222" stroke="#222" stroke-width="0.06" text-anchor="middle">Time (Year-Month-Day)</text>
<text x="277.3" y="397" font-size="14.4" font-weight="bold" fill="#222" text-anchor="middle">(b)</text>
<text x="227.9" y="59.7" font-size="19.1" fill="#0a0a0a" stroke="#0a0a0a" stroke-width="0.12">ResNet method</text>
<text x="293.9" y="283.9" font-size="18.95" fill="#0a0a0a" stroke="#0a0a0a" stroke-width="0.12">LeNet method</text>
<rect x="351.6" y="45.7" width="161.8" height="89.8" rx="2" ry="2" fill="#fff" fill-opacity="0.8" stroke="#dcdcdc" stroke-width="0.8"/>
<rect x="356" y="50.7" width="25.3" height="8.4" fill="#90cc90"/>
<text x="391" y="59.7" font-size="12.45" fill="#1a1a1a" stroke="#1a1a1a" stroke-width="0.1">Low Speed State</text>
<rect x="356" y="68.15" width="25.3" height="8.4" fill="#ffe878"/>
<text x="391" y="77.15" font-size="12.45" fill="#1a1a1a" stroke="#1a1a1a" stroke-width="0.1">Medium Speed State</text>
<rect x="356" y="85.6" width="25.3" height="8.4" fill="#ffc07c"/>
<text x="391" y="94.6" font-size="12.45" fill="#1a1a1a" stroke="#1a1a1a" stroke-width="0.1">High Speed State</text>
<rect x="356" y="103.05" width="25.3" height="8.4" fill="#ff8080"/>
<text x="391" y="112.05" font-size="12.45" fill="#1a1a1a" stroke="#1a1a1a" stroke-width="0.1">Super High Speed State</text>
<line x1="355.8" y1="124.7" x2="381.5" y2="124.7" stroke="#5858ff" stroke-width="1.2"/>
<text x="391" y="129.5" font-size="12.45" fill="#1a1a1a" stroke="#1a1a1a" stroke-width="0.1">Speed</text>
</svg></body></html>
